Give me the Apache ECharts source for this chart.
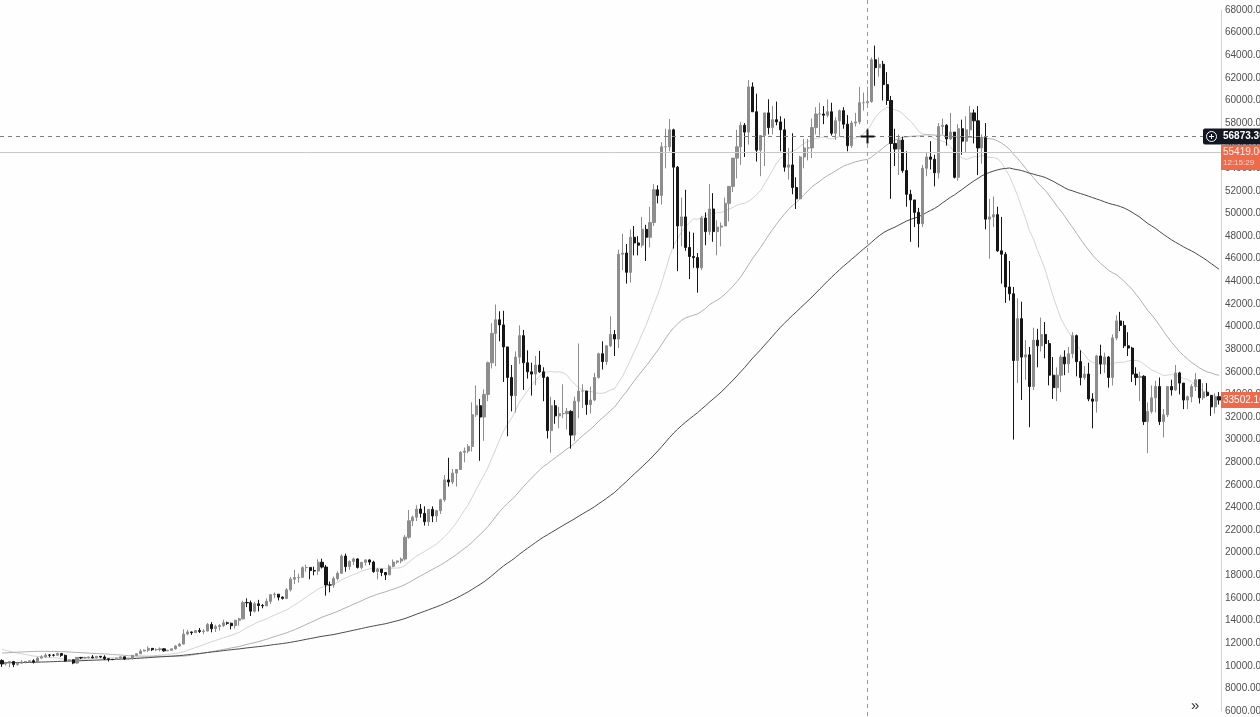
<!DOCTYPE html>
<html><head><meta charset="utf-8">
<script src="https://cdn.jsdelivr.net/npm/echarts@6/dist/echarts.min.js"></script>
<style>html,body{margin:0;padding:0;background:#fefefe;overflow:hidden}#c{width:1260px;height:717px}</style>
</head><body><div id="c"></div>
<script>
// ---- DATA (BTC/USD daily) ----
const startDate = '2020-09-05';
// closes before the visible window (used only for the moving averages)
const prevCloses = [9570,9430,9700,9450,
10200,9520,9660,9790,9620,9670,9760,9780,9770,9880,9280,9460,9470,9340,9430,9520,9460,9380,9300,9360,9290,9680,9630,9300,9250,9160,9010,9120,9190,9140,
9230,9090,9070,9130,9080,9340,9250,9440,9240,9290,9240,9300,9240,9260,9200,9130,9150,9170,9210,9160,9390,9530,9610,9540,9700,9930,11030,10940,11100,11110,11350,
11800,11070,11230,11190,11740,11770,11600,11750,11680,11880,11400,11570,11780,11770,11870,11910,12300,11950,11750,11860,11530,11680,11660,11770,11350,11460,11330,11540,11480,11710,11680,
11970,11410,10170,10470];

const opens = [10470,10160,10260,10370,10120,10230,10340,10390,10440,10330,10680,10790,10950,10940,10930,11080,10920,10420,10530,10240,10740,10690,10730,10780,10700,10840,
10780,10620,10570,10550,10670,10790,10600,10670,10920,11060,11300,11380,11540,11420,11430,11500,11320,11370,11500,11750,11920,12810,12990,12930,13120,13030,13070,13650,13280,13460,13560,
13800,13760,13550,14030,14150,15590,15580,14830,15480,15330,15300,15700,16290,16330,16070,15960,16720,17660,17800,17820,18680,18700,18420,18380,19160,18730,17150,17140,17720,18180,
19700,18770,19230,19450,18700,19150,19360,19170,18330,18550,18250,18040,18800,19170,19270,19440,21370,22820,23140,23860,23480,22740,23830,23250,23720,24680,26440,26250,27040,27360,28880,
28990,29400,32200,33000,32000,34000,36800,39400,40600,40150,38200,35500,33900,37300,39200,36800,36000,35800,36600,36000,35500,30800,33000,32100,32300,32300,32500,30400,33400,34300,34300,
33100,33500,35500,37600,36900,38300,39300,38900,46400,46500,44800,47900,47400,47200,48600,47900,49200,52100,51600,55900,55900,57400,54100,48900,49700,47000,46200,46100,
45200,49600,48400,50400,48400,48800,48900,50900,52400,54900,55900,57800,57200,61200,59000,55600,56900,58900,57600,58300,58100,57400,54100,54300,52300,51300,55000,55800,55800,57600,58800,
58800,58700,59000,57100,58200,59100,57900,56000,58000,58100,59800,59800,59900,63600,62900,63200,61400,60000,56200,55700,56500,53800,51700,51200,50100,49100,54000,55000,54800,53600,
57700,57800,56600,57200,53200,57500,56400,57400,58900,58200,55800,56700,49500,49700,49900,46700,46400,43500,42900,37000,40700,37300,37500,34700,38800,38300,39300,38500,35700,34600,35700,
37300,36700,37600,39200,36900,35500,35800,33600,33400,37400,36700,37300,35500,39000,40500,40100,38300,38100,35800,35500,35600,31600,32500,33700,34700,31600,32200,34700,34400,35900,
35000,33500,33800,34700,35300,33700,34200,33900,32900,33800];

const highs = [10570,10350,10400,10430,10350,10500,10400,10480,10580,10800,10940,11100,11040,11040,11180,11080,10990,10560,10550,10780,10780,10800,10800,10950,10860,10850,
10930,10660,10600,10700,10800,10800,10690,10950,11100,11480,11440,11720,11560,11550,11620,11540,11400,11500,11820,12030,13220,13180,13030,13170,13340,13240,13780,13860,13630,13690,14080,
13900,13820,14060,14250,15750,15960,15770,15650,15830,15460,15950,16350,16480,16330,16140,16880,17860,18480,18150,18800,18950,18700,18770,19420,19480,18920,17450,17900,18350,19850,
19920,19310,19560,19500,19180,19420,19420,19290,18640,18560,18280,18950,19400,19300,19570,21560,23780,23280,24200,24300,24100,23840,24100,23790,24780,26870,28400,27400,27370,28990,29300,
29600,33300,34800,33600,34450,36900,40300,41950,41350,41400,38200,36600,37800,40100,39700,37900,36800,37400,37850,36400,35600,33800,33500,32900,34900,32800,32600,33800,38500,34900,34300,
34700,35900,37700,38700,38300,40900,39700,46800,48200,47300,48600,48900,48000,49700,49000,50600,52600,52500,56300,57500,58350,57500,54200,51400,52100,48400,48300,46500,
49800,50100,52600,51800,49400,49200,51400,52400,54900,57400,58100,58000,61800,61600,60600,56900,58900,60100,59500,59900,58600,58400,55800,57100,53200,55100,56600,56600,58400,59400,59800,
59500,60100,59800,58500,59200,59400,58700,58200,58900,61200,60700,61200,63800,64850,63800,63500,62500,60400,57500,57000,56800,55500,52100,51200,50500,54300,55400,56400,55200,58000,
58400,57900,58900,57200,57900,58300,58600,59500,59200,59500,57000,58000,51300,51500,50600,49700,46600,45800,43500,42500,42200,38800,38200,39900,39800,40800,40400,38800,37300,36400,37500,
37900,38200,39500,39300,37900,36500,36800,34100,37500,38400,37700,37400,39300,41000,41300,40500,39500,38200,36400,36000,35700,33300,34800,35200,35500,32700,34700,35300,36600,36000,
35000,33900,34900,35900,35300,35000,35000,33900,34100,34200];

const lows = [9900,10020,9880,9880,10000,10200,10200,10300,10200,10280,10640,10680,10750,10820,10890,10800,10360,10350,10140,10200,10600,10650,10640,10660,10650,10680,
10500,10380,10500,10520,10620,10530,10550,10530,10830,11060,11280,11230,11300,11300,11270,11240,11300,11350,11420,11700,11900,12700,12730,12900,12900,12790,13050,12960,12990,13120,13430,
13620,13220,13290,13540,14100,15190,14400,14710,14810,15080,15290,15460,15980,15780,15860,15900,16570,17220,17350,17760,18320,17650,18000,18050,18600,16200,16500,16900,17550,18180,
18320,18480,18900,18600,18530,18860,18920,18230,17640,17930,17580,18020,18710,19000,19050,19300,21240,22350,22800,23100,22400,22360,22700,22720,23430,24500,25850,26070,25850,27320,28000,
28800,28950,32000,28130,29900,33400,36300,36500,38700,35100,30300,32500,32400,36700,34400,35400,33900,34800,35900,33400,30100,28850,31400,31000,31900,30900,29200,29900,31900,32800,32200,
32300,33400,35400,36200,36600,38200,37400,38100,45000,43800,43900,46300,46300,47000,45800,47000,48900,50900,50800,54000,55500,46900,44900,47100,46700,44200,45200,43000,
45000,47200,48100,47500,46300,47100,48900,49300,51900,53100,54300,55000,56100,59000,54600,53300,54200,57000,57000,57800,55500,53700,53000,51700,50400,51300,54000,54700,54900,57000,56900,
57900,58500,56900,56500,56800,57500,55500,55800,57700,57900,59100,59500,59800,61300,62100,60000,59600,51300,54200,53400,53600,50600,47500,48800,47000,48800,53300,53900,52400,53100,
57000,56000,56500,53100,52900,55200,55400,56900,56200,53400,54400,48600,46000,48800,46600,43800,42100,42300,30000,35000,33500,35300,31100,34400,36400,37800,37200,34800,33600,33400,34200,
35700,35900,37200,35600,34800,35300,33400,31000,32400,35800,35900,34600,34800,38800,39600,38100,37400,35100,34800,33400,31300,28800,32300,32400,31300,30200,32000,33900,34300,34000,
32700,32700,33300,34300,33200,33500,33800,32100,32300,33100];

const closes = [10160,10260,10370,10120,10230,10340,10390,10440,10330,10680,10790,10950,10940,10930,11080,10920,10420,10530,10240,10740,10690,10730,10780,10700,10840,10780,
10620,10570,10550,10670,10790,10600,10670,10920,11060,11300,11380,11540,11420,11430,11500,11320,11370,11500,11750,11920,12810,12990,12930,13120,13030,13070,13650,13280,13460,13560,13800,
13760,13550,14030,14150,15590,15580,14830,15480,15330,15300,15700,16290,16330,16070,15960,16720,17660,17800,17820,18680,18700,18420,18380,19160,18730,17150,17140,17720,18180,19700,
18770,19230,19450,18700,19150,19360,19170,18330,18550,18250,18040,18800,19170,19270,19440,21370,22820,23140,23860,23480,22740,23830,23250,23720,24680,26440,26250,27040,27360,28880,28990,
29400,32200,33000,32000,34000,36800,39400,40600,40150,38200,35500,33900,37300,39200,36800,36000,35800,36600,36000,35500,30800,33000,32100,32300,32300,32500,30400,33400,34300,34300,33100,
33500,35500,37600,36900,38300,39300,38900,46400,46500,44800,47900,47400,47200,48600,47900,49200,52100,51600,55900,55900,57400,54100,48900,49700,47000,46200,46100,45200,
49600,48400,50400,48400,48800,48900,50900,52400,54900,55900,57800,57200,61200,59000,55600,56900,58900,57600,58300,58100,57400,54100,54300,52300,51300,55000,55800,55800,57600,58800,58800,
58700,59000,57100,58200,59100,57900,56000,58000,58100,59800,59800,59900,63600,62900,63200,61400,60000,56200,55700,56500,53800,51700,51200,50100,49100,54000,55000,54800,53600,57700,
57800,56600,57200,53200,57500,56400,57400,58900,58200,55800,56700,49500,49700,49900,46700,46400,43500,42900,37000,40700,37300,37500,34700,38800,38300,39300,38500,35700,34600,35700,37300,
36700,37600,39200,36900,35500,35800,33600,33400,37400,36700,37300,35500,39000,40500,40100,38300,38100,35800,35500,35600,31600,32500,33700,34700,31600,32200,34700,34400,35900,35000,
33500,33800,34700,35300,33700,34200,33900,32900,33800,33500];

const maPeriods = [20, 50, 100];
const maColors = ['#d4d4d4', '#b0b0b0', '#4a4a4a'];
const yMin = 6000, yMax = 68000, yStep = 2000;
const crossPrice = 56873.3, crossIndex = 219;
const barPrice = 55419.0, barCountdown = '12:15:29';
const lastPrice = 33502.1;

// ---- build ----
const dates = [];
{
  const d0 = new Date(startDate + 'T00:00:00Z');
  for (let i = 0; i < closes.length; i++) {
    const d = new Date(d0.getTime() + i * 86400000);
    dates.push(d.toISOString().slice(0, 10));
  }
}
const ohlc = closes.map((c, i) => [opens[i], c, lows[i], highs[i]]);
const allCloses = prevCloses.concat(closes);
function movingAverage(n) {
  return closes.map((_, i) => {
    const end = prevCloses.length + i;
    let s = 0;
    for (let k = end - n + 1; k <= end; k++) s += allCloses[k];
    return +(s / n).toFixed(1);
  });
}

const chart = echarts.init(document.getElementById('c'), null, {renderer: 'canvas'});
const option = {
  animation: false,
  backgroundColor: '#fefefe',
  grid: {left: 0, right: 39, top: 10, bottom: 6, containLabel: false, outerBoundsMode: 'none'},
  xAxis: {
    type: 'category', data: dates, boundaryGap: true,
    axisLine: {show: false}, axisTick: {show: false}, axisLabel: {show: false}, splitLine: {show: false}
  },
  yAxis: {
    type: 'value', position: 'right', min: yMin, max: yMax, interval: yStep, scale: false,
    axisLine: {show: true, lineStyle: {color: '#d2d2d2', width: 1}},
    axisTick: {show: false},
    splitLine: {show: false},
    axisLabel: {
      show: true, margin: 4, align: 'left', fontSize: 10, color: '#4f4f4f',
      fontFamily: 'Liberation Sans, Arial, sans-serif',
      formatter: v => v.toFixed(2), showMinLabel: true, showMaxLabel: true
    }
  },
  series: [
    {
      type: 'candlestick', name: 'BTCUSD', data: ohlc, barWidth: '66%', z: 3,
      itemStyle: {color: '#8d8d8d', color0: '#161616', borderColor: '#8d8d8d', borderColor0: '#161616', borderWidth: 1},
      markLine: {
        symbol: 'none', silent: true, animation: false, label: {show: false},
        data: [
          {yAxis: crossPrice, lineStyle: {type: [4, 4], color: '#7d7d7d', width: 1}},
          {yAxis: barPrice, lineStyle: {type: 'solid', color: '#c9c9c9', width: 1}}
        ]
      }
    }
  ].concat(maPeriods.map((n, k) => ({
    type: 'line', name: 'MA' + n, data: movingAverage(n), showSymbol: false, symbol: 'none',
    z: 2, lineStyle: {width: 1, color: maColors[k]}, silent: true
  })))
};
chart.setOption(option);

// ---- overlay labels (TradingView style) ----
const xC = Math.round(chart.convertToPixel({xAxisIndex: 0}, dates[crossIndex])) + 0.5;
const yC = Math.round(chart.convertToPixel({yAxisIndex: 0}, crossPrice)) + 0.5;
const yB = Math.round(chart.convertToPixel({yAxisIndex: 0}, barPrice));
const yL = Math.round(chart.convertToPixel({yAxisIndex: 0}, lastPrice));
const axisX = 1221;
const fam = 'Liberation Sans, Arial, sans-serif';
const g = [
  {type: 'line', z: 50, shape: {x1: xC, y1: 0, x2: xC, y2: 717}, style: {stroke: '#9a9a9a', lineWidth: 1, lineDash: [4, 4]}},
  {type: 'line', z: 60, shape: {x1: xC - 7, y1: yC, x2: xC + 7, y2: yC}, style: {stroke: '#111', lineWidth: 2}},
  {type: 'line', z: 60, shape: {x1: xC, y1: yC - 7, x2: xC, y2: yC + 7}, style: {stroke: '#111', lineWidth: 2}},
  // crosshair price label
  {type: 'rect', z: 70, shape: {x: 1203, y: yC - 8, width: 60, height: 16, r: 2}, style: {fill: '#131722'}},
  {type: 'circle', z: 71, shape: {cx: 1211.5, cy: yC, r: 5}, style: {fill: 'none', stroke: '#fff', lineWidth: 1}},
  {type: 'line', z: 71, shape: {x1: 1209, y1: yC, x2: 1214, y2: yC}, style: {stroke: '#fff', lineWidth: 1}},
  {type: 'line', z: 71, shape: {x1: 1211.5, y1: yC - 2.5, x2: 1211.5, y2: yC + 2.5}, style: {stroke: '#fff', lineWidth: 1}},
  {type: 'text', z: 72, x: 1223, y: yC, style: {text: crossPrice.toFixed(2), fill: '#fff', font: 'bold 10px ' + fam, textVerticalAlign: 'middle', textAlign: 'left'}},
  // bar price label with countdown
  {type: 'rect', z: 70, shape: {x: axisX, y: yB - 7, width: 40, height: 25}, style: {fill: '#ef6a4a'}},
  {type: 'text', z: 72, x: 1223, y: yB, style: {text: barPrice.toFixed(2), fill: '#fff3ee', font: '10px ' + fam, textVerticalAlign: 'middle', textAlign: 'left'}},
  {type: 'text', z: 72, x: 1223, y: yB + 11, style: {text: barCountdown, fill: '#ffd9cc', font: '8px ' + fam, textVerticalAlign: 'middle', textAlign: 'left'}},
  // last price label
  {type: 'rect', z: 70, shape: {x: axisX, y: yL - 8, width: 40, height: 16}, style: {fill: '#ef6a4a'}},
  {type: 'text', z: 72, x: 1223, y: yL, style: {text: lastPrice.toFixed(2), fill: '#fff', font: '10px ' + fam, textVerticalAlign: 'middle', textAlign: 'left'}},
  {type: 'text', z: 72, x: 1191, y: 706, style: {text: '»', fill: '#333', font: '15px ' + fam, textVerticalAlign: 'middle', textAlign: 'left'}}
];
const lens = [opens.length, highs.length, lows.length, closes.length];
if (lens.some(l => l !== closes.length)) {
  g.push({type: 'text', z: 99, x: 300, y: 100, style: {text: 'LEN ' + lens.join(','), fill: 'red', font: '20px sans-serif'}});
}
chart.setOption({graphic: g});
</script>
</body></html>
